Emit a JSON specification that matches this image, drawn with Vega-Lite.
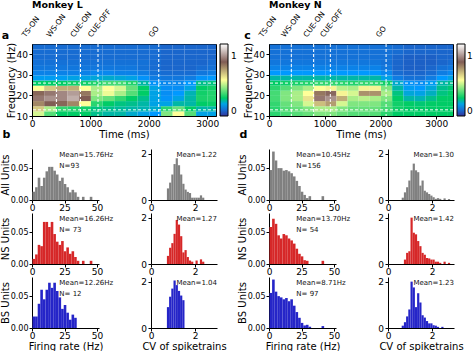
{
"$schema": "https://vega.github.io/schema/vega-lite/v6.json",
"padding": {"left": 0, "top": -1, "right": 0, "bottom": 0},
"config": {
 "font": "DejaVu Sans",
 "view": {"stroke": null},
 "axis": {"grid": false, "labelFont": "DejaVu Sans", "titleFont": "DejaVu Sans", "labelFontSize": 9, "titleFontSize": 10, "titleFontWeight": "normal", "labelColor": "#000", "titleColor": "#000", "domainColor": "#000", "tickColor": "#000", "tickSize": 3, "labelFlush": false, "labelBound": false, "labelOverlap": false, "titlePadding": 2},
 "axisX": {"labelPadding": 0, "titlePadding": 1},
 "axisY": {"labelPadding": 1.5, "titlePadding": 0},
 "title": {"font": "DejaVu Sans", "fontSize": 9.5, "fontWeight": "bold", "anchor": "start", "frame": "group", "offset": -2, "color": "#000"},
 "text": {"font": "DejaVu Sans", "color": "#111"}
},
"datasets": {
 "evL": [{"name": "TS-ON", "t": 0}, {"name": "WS-ON", "t": 420}, {"name": "CUE-ON", "t": 830}, {"name": "CUE-OFF", "t": 1130}, {"name": "GO", "t": 2170}],
 "evN": [{"name": "TS-ON", "t": 0}, {"name": "WS-ON", "t": 400}, {"name": "CUE-ON", "t": 800}, {"name": "CUE-OFF", "t": 1100}, {"name": "GO", "t": 2100}],
 "bands": [{"f": 13}, {"f": 26}],
 "hmL": [
{"t":0,"f":10,"v":0.55},{"t":200,"f":10,"v":0.4},{"t":400,"f":10,"v":0.3},{"t":600,"f":10,"v":0.3},{"t":800,"f":10,"v":0.3},{"t":1000,"f":10,"v":0.27},{"t":1200,"f":10,"v":0.25},{"t":1400,"f":10,"v":0.25},{"t":1600,"f":10,"v":0.22},{"t":1800,"f":10,"v":0.2},{"t":2000,"f":10,"v":0.18},{"t":2200,"f":10,"v":0.45},{"t":2400,"f":10,"v":0.6},{"t":2600,"f":10,"v":0.4},{"t":2800,"f":10,"v":0.2},{"t":3000,"f":10,"v":0.2},
{"t":0,"f":12.5,"v":0.7},{"t":200,"f":12.5,"v":0.5},{"t":400,"f":12.5,"v":0.36},{"t":600,"f":12.5,"v":0.34},{"t":800,"f":12.5,"v":0.32},{"t":1000,"f":12.5,"v":0.28},{"t":1200,"f":12.5,"v":0.27},{"t":1400,"f":12.5,"v":0.26},{"t":1600,"f":12.5,"v":0.25},{"t":1800,"f":12.5,"v":0.24},{"t":2000,"f":12.5,"v":0.22},{"t":2200,"f":12.5,"v":0.35},{"t":2400,"f":12.5,"v":0.42},{"t":2600,"f":12.5,"v":0.3},{"t":2800,"f":12.5,"v":0.25},{"t":3000,"f":12.5,"v":0.25},
{"t":0,"f":15,"v":0.82},{"t":200,"f":15,"v":0.9},{"t":400,"f":15,"v":0.88},{"t":600,"f":15,"v":0.82},{"t":800,"f":15,"v":0.6},{"t":1000,"f":15,"v":0.35},{"t":1200,"f":15,"v":0.3},{"t":1400,"f":15,"v":0.28},{"t":1600,"f":15,"v":0.27},{"t":1800,"f":15,"v":0.25},{"t":2000,"f":15,"v":0.2},{"t":2200,"f":15,"v":0.2},{"t":2400,"f":15,"v":0.25},{"t":2600,"f":15,"v":0.25},{"t":2800,"f":15,"v":0.3},{"t":3000,"f":15,"v":0.31},
{"t":0,"f":17.5,"v":0.95},{"t":200,"f":17.5,"v":1.0},{"t":400,"f":17.5,"v":0.98},{"t":600,"f":17.5,"v":1.05},{"t":800,"f":17.5,"v":0.9},{"t":1000,"f":17.5,"v":0.45},{"t":1200,"f":17.5,"v":0.42},{"t":1400,"f":17.5,"v":0.36},{"t":1600,"f":17.5,"v":0.3},{"t":1800,"f":17.5,"v":0.27},{"t":2000,"f":17.5,"v":0.2},{"t":2200,"f":17.5,"v":0.17},{"t":2400,"f":17.5,"v":0.2},{"t":2600,"f":17.5,"v":0.25},{"t":2800,"f":17.5,"v":0.33},{"t":3000,"f":17.5,"v":0.34},
{"t":0,"f":20,"v":0.88},{"t":200,"f":20,"v":0.95},{"t":400,"f":20,"v":0.98},{"t":600,"f":20,"v":1.02},{"t":800,"f":20,"v":0.85},{"t":1000,"f":20,"v":0.5},{"t":1200,"f":20,"v":0.58},{"t":1400,"f":20,"v":0.5},{"t":1600,"f":20,"v":0.4},{"t":1800,"f":20,"v":0.3},{"t":2000,"f":20,"v":0.2},{"t":2200,"f":20,"v":0.16},{"t":2400,"f":20,"v":0.18},{"t":2600,"f":20,"v":0.24},{"t":2800,"f":20,"v":0.32},{"t":3000,"f":20,"v":0.34},
{"t":0,"f":22.5,"v":0.6},{"t":200,"f":22.5,"v":0.7},{"t":400,"f":22.5,"v":0.75},{"t":600,"f":22.5,"v":0.75},{"t":800,"f":22.5,"v":0.6},{"t":1000,"f":22.5,"v":0.5},{"t":1200,"f":22.5,"v":0.6},{"t":1400,"f":22.5,"v":0.55},{"t":1600,"f":22.5,"v":0.42},{"t":1800,"f":22.5,"v":0.3},{"t":2000,"f":22.5,"v":0.2},{"t":2200,"f":22.5,"v":0.16},{"t":2400,"f":22.5,"v":0.16},{"t":2600,"f":22.5,"v":0.2},{"t":2800,"f":22.5,"v":0.3},{"t":3000,"f":22.5,"v":0.32},
{"t":0,"f":25,"v":0.3},{"t":200,"f":25,"v":0.3},{"t":400,"f":25,"v":0.3},{"t":600,"f":25,"v":0.32},{"t":800,"f":25,"v":0.32},{"t":1000,"f":25,"v":0.34},{"t":1200,"f":25,"v":0.38},{"t":1400,"f":25,"v":0.38},{"t":1600,"f":25,"v":0.34},{"t":1800,"f":25,"v":0.25},{"t":2000,"f":25,"v":0.17},{"t":2200,"f":25,"v":0.15},{"t":2400,"f":25,"v":0.15},{"t":2600,"f":25,"v":0.18},{"t":2800,"f":25,"v":0.27},{"t":3000,"f":25,"v":0.28},
{"t":0,"f":27.5,"v":0.19},{"t":200,"f":27.5,"v":0.19},{"t":400,"f":27.5,"v":0.19},{"t":600,"f":27.5,"v":0.2},{"t":800,"f":27.5,"v":0.2},{"t":1000,"f":27.5,"v":0.21},{"t":1200,"f":27.5,"v":0.22},{"t":1400,"f":27.5,"v":0.21},{"t":1600,"f":27.5,"v":0.2},{"t":1800,"f":27.5,"v":0.17},{"t":2000,"f":27.5,"v":0.13},{"t":2200,"f":27.5,"v":0.12},{"t":2400,"f":27.5,"v":0.12},{"t":2600,"f":27.5,"v":0.13},{"t":2800,"f":27.5,"v":0.17},{"t":3000,"f":27.5,"v":0.18},
{"t":0,"f":30,"v":0.14},{"t":200,"f":30,"v":0.14},{"t":400,"f":30,"v":0.14},{"t":600,"f":30,"v":0.14},{"t":800,"f":30,"v":0.14},{"t":1000,"f":30,"v":0.15},{"t":1200,"f":30,"v":0.15},{"t":1400,"f":30,"v":0.14},{"t":1600,"f":30,"v":0.14},{"t":1800,"f":30,"v":0.13},{"t":2000,"f":30,"v":0.11},{"t":2200,"f":30,"v":0.1},{"t":2400,"f":30,"v":0.1},{"t":2600,"f":30,"v":0.1},{"t":2800,"f":30,"v":0.12},{"t":3000,"f":30,"v":0.13},
{"t":0,"f":32.5,"v":0.12},{"t":200,"f":32.5,"v":0.12},{"t":400,"f":32.5,"v":0.12},{"t":600,"f":32.5,"v":0.12},{"t":800,"f":32.5,"v":0.12},{"t":1000,"f":32.5,"v":0.12},{"t":1200,"f":32.5,"v":0.12},{"t":1400,"f":32.5,"v":0.12},{"t":1600,"f":32.5,"v":0.12},{"t":1800,"f":32.5,"v":0.11},{"t":2000,"f":32.5,"v":0.1},{"t":2200,"f":32.5,"v":0.09},{"t":2400,"f":32.5,"v":0.09},{"t":2600,"f":32.5,"v":0.09},{"t":2800,"f":32.5,"v":0.1},{"t":3000,"f":32.5,"v":0.11},
{"t":0,"f":35,"v":0.11},{"t":200,"f":35,"v":0.11},{"t":400,"f":35,"v":0.11},{"t":600,"f":35,"v":0.11},{"t":800,"f":35,"v":0.11},{"t":1000,"f":35,"v":0.11},{"t":1200,"f":35,"v":0.11},{"t":1400,"f":35,"v":0.11},{"t":1600,"f":35,"v":0.11},{"t":1800,"f":35,"v":0.11},{"t":2000,"f":35,"v":0.1},{"t":2200,"f":35,"v":0.09},{"t":2400,"f":35,"v":0.09},{"t":2600,"f":35,"v":0.09},{"t":2800,"f":35,"v":0.09},{"t":3000,"f":35,"v":0.1},
{"t":0,"f":37.5,"v":0.1},{"t":200,"f":37.5,"v":0.1},{"t":400,"f":37.5,"v":0.1},{"t":600,"f":37.5,"v":0.1},{"t":800,"f":37.5,"v":0.1},{"t":1000,"f":37.5,"v":0.1},{"t":1200,"f":37.5,"v":0.1},{"t":1400,"f":37.5,"v":0.1},{"t":1600,"f":37.5,"v":0.1},{"t":1800,"f":37.5,"v":0.1},{"t":2000,"f":37.5,"v":0.1},{"t":2200,"f":37.5,"v":0.09},{"t":2400,"f":37.5,"v":0.09},{"t":2600,"f":37.5,"v":0.09},{"t":2800,"f":37.5,"v":0.09},{"t":3000,"f":37.5,"v":0.09},
{"t":0,"f":40,"v":0.1},{"t":200,"f":40,"v":0.1},{"t":400,"f":40,"v":0.1},{"t":600,"f":40,"v":0.1},{"t":800,"f":40,"v":0.1},{"t":1000,"f":40,"v":0.1},{"t":1200,"f":40,"v":0.1},{"t":1400,"f":40,"v":0.1},{"t":1600,"f":40,"v":0.1},{"t":1800,"f":40,"v":0.1},{"t":2000,"f":40,"v":0.1},{"t":2200,"f":40,"v":0.09},{"t":2400,"f":40,"v":0.09},{"t":2600,"f":40,"v":0.09},{"t":2800,"f":40,"v":0.09},{"t":3000,"f":40,"v":0.09},
{"t":0,"f":42.5,"v":0.1},{"t":200,"f":42.5,"v":0.1},{"t":400,"f":42.5,"v":0.1},{"t":600,"f":42.5,"v":0.1},{"t":800,"f":42.5,"v":0.1},{"t":1000,"f":42.5,"v":0.1},{"t":1200,"f":42.5,"v":0.1},{"t":1400,"f":42.5,"v":0.1},{"t":1600,"f":42.5,"v":0.1},{"t":1800,"f":42.5,"v":0.1},{"t":2000,"f":42.5,"v":0.1},{"t":2200,"f":42.5,"v":0.09},{"t":2400,"f":42.5,"v":0.09},{"t":2600,"f":42.5,"v":0.09},{"t":2800,"f":42.5,"v":0.09},{"t":3000,"f":42.5,"v":0.09}
 ],
 "hmN": [
{"t":0,"f":10,"v":0.35},{"t":200,"f":10,"v":0.38},{"t":400,"f":10,"v":0.4},{"t":600,"f":10,"v":0.42},{"t":800,"f":10,"v":0.45},{"t":1000,"f":10,"v":0.45},{"t":1200,"f":10,"v":0.42},{"t":1400,"f":10,"v":0.4},{"t":1600,"f":10,"v":0.4},{"t":1800,"f":10,"v":0.4},{"t":2000,"f":10,"v":0.35},{"t":2200,"f":10,"v":0.3},{"t":2400,"f":10,"v":0.3},{"t":2600,"f":10,"v":0.3},{"t":2800,"f":10,"v":0.3},{"t":3000,"f":10,"v":0.3},{"t":3200,"f":10,"v":0.3},
{"t":0,"f":12.5,"v":0.35},{"t":200,"f":12.5,"v":0.4},{"t":400,"f":12.5,"v":0.42},{"t":600,"f":12.5,"v":0.45},{"t":800,"f":12.5,"v":0.5},{"t":1000,"f":12.5,"v":0.5},{"t":1200,"f":12.5,"v":0.45},{"t":1400,"f":12.5,"v":0.42},{"t":1600,"f":12.5,"v":0.42},{"t":1800,"f":12.5,"v":0.42},{"t":2000,"f":12.5,"v":0.38},{"t":2200,"f":12.5,"v":0.32},{"t":2400,"f":12.5,"v":0.3},{"t":2600,"f":12.5,"v":0.3},{"t":2800,"f":12.5,"v":0.3},{"t":3000,"f":12.5,"v":0.3},{"t":3200,"f":12.5,"v":0.3},
{"t":0,"f":15,"v":0.36},{"t":200,"f":15,"v":0.42},{"t":400,"f":15,"v":0.45},{"t":600,"f":15,"v":0.55},{"t":800,"f":15,"v":0.72},{"t":1000,"f":15,"v":0.78},{"t":1200,"f":15,"v":0.55},{"t":1400,"f":15,"v":0.45},{"t":1600,"f":15,"v":0.45},{"t":1800,"f":15,"v":0.45},{"t":2000,"f":15,"v":0.4},{"t":2200,"f":15,"v":0.32},{"t":2400,"f":15,"v":0.3},{"t":2600,"f":15,"v":0.29},{"t":2800,"f":15,"v":0.3},{"t":3000,"f":15,"v":0.3},{"t":3200,"f":15,"v":0.3},
{"t":0,"f":17.5,"v":0.38},{"t":200,"f":17.5,"v":0.45},{"t":400,"f":17.5,"v":0.5},{"t":600,"f":17.5,"v":0.65},{"t":800,"f":17.5,"v":0.95},{"t":1000,"f":17.5,"v":1.0},{"t":1200,"f":17.5,"v":0.75},{"t":1400,"f":17.5,"v":0.5},{"t":1600,"f":17.5,"v":0.52},{"t":1800,"f":17.5,"v":0.5},{"t":2000,"f":17.5,"v":0.45},{"t":2200,"f":17.5,"v":0.3},{"t":2400,"f":17.5,"v":0.25},{"t":2600,"f":17.5,"v":0.24},{"t":2800,"f":17.5,"v":0.27},{"t":3000,"f":17.5,"v":0.3},{"t":3200,"f":17.5,"v":0.3},
{"t":0,"f":20,"v":0.38},{"t":200,"f":20,"v":0.45},{"t":400,"f":20,"v":0.5},{"t":600,"f":20,"v":0.6},{"t":800,"f":20,"v":0.85},{"t":1000,"f":20,"v":0.92},{"t":1200,"f":20,"v":0.62},{"t":1400,"f":20,"v":0.55},{"t":1600,"f":20,"v":0.8},{"t":1800,"f":20,"v":0.8},{"t":2000,"f":20,"v":0.5},{"t":2200,"f":20,"v":0.28},{"t":2400,"f":20,"v":0.21},{"t":2600,"f":20,"v":0.2},{"t":2800,"f":20,"v":0.23},{"t":3000,"f":20,"v":0.28},{"t":3200,"f":20,"v":0.3},
{"t":0,"f":22.5,"v":0.35},{"t":200,"f":22.5,"v":0.4},{"t":400,"f":22.5,"v":0.45},{"t":600,"f":22.5,"v":0.5},{"t":800,"f":22.5,"v":0.6},{"t":1000,"f":22.5,"v":0.62},{"t":1200,"f":22.5,"v":0.52},{"t":1400,"f":22.5,"v":0.5},{"t":1600,"f":22.5,"v":0.62},{"t":1800,"f":22.5,"v":0.62},{"t":2000,"f":22.5,"v":0.45},{"t":2200,"f":22.5,"v":0.25},{"t":2400,"f":22.5,"v":0.19},{"t":2600,"f":22.5,"v":0.18},{"t":2800,"f":22.5,"v":0.21},{"t":3000,"f":22.5,"v":0.27},{"t":3200,"f":22.5,"v":0.29},
{"t":0,"f":25,"v":0.3},{"t":200,"f":25,"v":0.32},{"t":400,"f":25,"v":0.33},{"t":600,"f":25,"v":0.34},{"t":800,"f":25,"v":0.36},{"t":1000,"f":25,"v":0.36},{"t":1200,"f":25,"v":0.35},{"t":1400,"f":25,"v":0.34},{"t":1600,"f":25,"v":0.36},{"t":1800,"f":25,"v":0.36},{"t":2000,"f":25,"v":0.32},{"t":2200,"f":25,"v":0.22},{"t":2400,"f":25,"v":0.17},{"t":2600,"f":25,"v":0.16},{"t":2800,"f":25,"v":0.19},{"t":3000,"f":25,"v":0.25},{"t":3200,"f":25,"v":0.27},
{"t":0,"f":27.5,"v":0.25},{"t":200,"f":27.5,"v":0.25},{"t":400,"f":27.5,"v":0.25},{"t":600,"f":27.5,"v":0.25},{"t":800,"f":27.5,"v":0.25},{"t":1000,"f":27.5,"v":0.25},{"t":1200,"f":27.5,"v":0.25},{"t":1400,"f":27.5,"v":0.25},{"t":1600,"f":27.5,"v":0.25},{"t":1800,"f":27.5,"v":0.25},{"t":2000,"f":27.5,"v":0.2},{"t":2200,"f":27.5,"v":0.13},{"t":2400,"f":27.5,"v":0.11},{"t":2600,"f":27.5,"v":0.11},{"t":2800,"f":27.5,"v":0.13},{"t":3000,"f":27.5,"v":0.18},{"t":3200,"f":27.5,"v":0.2},
{"t":0,"f":30,"v":0.18},{"t":200,"f":30,"v":0.18},{"t":400,"f":30,"v":0.18},{"t":600,"f":30,"v":0.18},{"t":800,"f":30,"v":0.18},{"t":1000,"f":30,"v":0.18},{"t":1200,"f":30,"v":0.18},{"t":1400,"f":30,"v":0.18},{"t":1600,"f":30,"v":0.18},{"t":1800,"f":30,"v":0.18},{"t":2000,"f":30,"v":0.15},{"t":2200,"f":30,"v":0.1},{"t":2400,"f":30,"v":0.09},{"t":2600,"f":30,"v":0.09},{"t":2800,"f":30,"v":0.1},{"t":3000,"f":30,"v":0.13},{"t":3200,"f":30,"v":0.15},
{"t":0,"f":32.5,"v":0.14},{"t":200,"f":32.5,"v":0.14},{"t":400,"f":32.5,"v":0.14},{"t":600,"f":32.5,"v":0.14},{"t":800,"f":32.5,"v":0.14},{"t":1000,"f":32.5,"v":0.14},{"t":1200,"f":32.5,"v":0.14},{"t":1400,"f":32.5,"v":0.14},{"t":1600,"f":32.5,"v":0.14},{"t":1800,"f":32.5,"v":0.14},{"t":2000,"f":32.5,"v":0.12},{"t":2200,"f":32.5,"v":0.09},{"t":2400,"f":32.5,"v":0.08},{"t":2600,"f":32.5,"v":0.08},{"t":2800,"f":32.5,"v":0.09},{"t":3000,"f":32.5,"v":0.11},{"t":3200,"f":32.5,"v":0.12},
{"t":0,"f":35,"v":0.12},{"t":200,"f":35,"v":0.12},{"t":400,"f":35,"v":0.12},{"t":600,"f":35,"v":0.12},{"t":800,"f":35,"v":0.12},{"t":1000,"f":35,"v":0.12},{"t":1200,"f":35,"v":0.12},{"t":1400,"f":35,"v":0.12},{"t":1600,"f":35,"v":0.12},{"t":1800,"f":35,"v":0.12},{"t":2000,"f":35,"v":0.11},{"t":2200,"f":35,"v":0.09},{"t":2400,"f":35,"v":0.08},{"t":2600,"f":35,"v":0.08},{"t":2800,"f":35,"v":0.08},{"t":3000,"f":35,"v":0.09},{"t":3200,"f":35,"v":0.1},
{"t":0,"f":37.5,"v":0.11},{"t":200,"f":37.5,"v":0.11},{"t":400,"f":37.5,"v":0.11},{"t":600,"f":37.5,"v":0.11},{"t":800,"f":37.5,"v":0.11},{"t":1000,"f":37.5,"v":0.11},{"t":1200,"f":37.5,"v":0.11},{"t":1400,"f":37.5,"v":0.11},{"t":1600,"f":37.5,"v":0.11},{"t":1800,"f":37.5,"v":0.11},{"t":2000,"f":37.5,"v":0.11},{"t":2200,"f":37.5,"v":0.09},{"t":2400,"f":37.5,"v":0.08},{"t":2600,"f":37.5,"v":0.08},{"t":2800,"f":37.5,"v":0.08},{"t":3000,"f":37.5,"v":0.09},{"t":3200,"f":37.5,"v":0.09},
{"t":0,"f":40,"v":0.11},{"t":200,"f":40,"v":0.11},{"t":400,"f":40,"v":0.11},{"t":600,"f":40,"v":0.11},{"t":800,"f":40,"v":0.11},{"t":1000,"f":40,"v":0.11},{"t":1200,"f":40,"v":0.11},{"t":1400,"f":40,"v":0.11},{"t":1600,"f":40,"v":0.11},{"t":1800,"f":40,"v":0.11},{"t":2000,"f":40,"v":0.11},{"t":2200,"f":40,"v":0.1},{"t":2400,"f":40,"v":0.09},{"t":2600,"f":40,"v":0.09},{"t":2800,"f":40,"v":0.09},{"t":3000,"f":40,"v":0.09},{"t":3200,"f":40,"v":0.09},
{"t":0,"f":42.5,"v":0.11},{"t":200,"f":42.5,"v":0.11},{"t":400,"f":42.5,"v":0.11},{"t":600,"f":42.5,"v":0.11},{"t":800,"f":42.5,"v":0.11},{"t":1000,"f":42.5,"v":0.11},{"t":1200,"f":42.5,"v":0.11},{"t":1400,"f":42.5,"v":0.11},{"t":1600,"f":42.5,"v":0.11},{"t":1800,"f":42.5,"v":0.11},{"t":2000,"f":42.5,"v":0.11},{"t":2200,"f":42.5,"v":0.1},{"t":2400,"f":42.5,"v":0.09},{"t":2600,"f":42.5,"v":0.09},{"t":2800,"f":42.5,"v":0.09},{"t":3000,"f":42.5,"v":0.09},{"t":3200,"f":42.5,"v":0.09}
 ],
 "frLa": [{"x":0,"y":0.013},{"x":2,"y":0.02},{"x":4,"y":0.035},{"x":6,"y":0.022},{"x":8,"y":0.035},{"x":10,"y":0.045},{"x":12,"y":0.052},{"x":14,"y":0.052},{"x":16,"y":0.046},{"x":18,"y":0.04},{"x":20,"y":0.03},{"x":22,"y":0.035},{"x":24,"y":0.025},{"x":26,"y":0.02},{"x":28,"y":0.012},{"x":30,"y":0.016},{"x":32,"y":0.012},{"x":34,"y":0.005},{"x":38,"y":0.005},{"x":44,"y":0.005}],
 "frLn": [{"x":0,"y":0.008},{"x":2,"y":0.015},{"x":4,"y":0.03},{"x":6,"y":0.028},{"x":8,"y":0.066},{"x":10,"y":0.066},{"x":12,"y":0.058},{"x":14,"y":0.066},{"x":16,"y":0.047},{"x":18,"y":0.035},{"x":20,"y":0.03},{"x":22,"y":0.036},{"x":24,"y":0.02},{"x":26,"y":0.026},{"x":28,"y":0.016},{"x":30,"y":0.02},{"x":32,"y":0.011},{"x":34,"y":0.005},{"x":38,"y":0.005},{"x":44,"y":0.005}],
 "frLb": [{"x":0,"y":0.018},{"x":2,"y":0.018},{"x":4,"y":0.038},{"x":6,"y":0.06},{"x":8,"y":0.045},{"x":10,"y":0.06},{"x":12,"y":0.071},{"x":14,"y":0.063},{"x":16,"y":0.071},{"x":18,"y":0.058},{"x":20,"y":0.048},{"x":22,"y":0.03},{"x":24,"y":0.036},{"x":26,"y":0.024},{"x":28,"y":0.013},{"x":30,"y":0.021},{"x":32,"y":0.016}],
 "frRa": [{"x":0,"y":0.047},{"x":2,"y":0.076},{"x":4,"y":0.062},{"x":6,"y":0.05},{"x":8,"y":0.05},{"x":10,"y":0.046},{"x":12,"y":0.047},{"x":14,"y":0.045},{"x":16,"y":0.042},{"x":18,"y":0.037},{"x":20,"y":0.03},{"x":22,"y":0.022},{"x":24,"y":0.013},{"x":26,"y":0.008},{"x":28,"y":0.003},{"x":30,"y":0.006},{"x":40,"y":0.006}],
 "frRn": [{"x":0,"y":0.058},{"x":2,"y":0.071},{"x":4,"y":0.063},{"x":6,"y":0.045},{"x":8,"y":0.04},{"x":10,"y":0.047},{"x":12,"y":0.045},{"x":14,"y":0.04},{"x":16,"y":0.037},{"x":18,"y":0.032},{"x":20,"y":0.024},{"x":22,"y":0.016},{"x":24,"y":0.012},{"x":26,"y":0.006},{"x":28,"y":0.005},{"x":40,"y":0.005}],
 "frRb": [{"x":0,"y":0.055},{"x":2,"y":0.076},{"x":4,"y":0.057},{"x":6,"y":0.05},{"x":8,"y":0.048},{"x":10,"y":0.045},{"x":12,"y":0.047},{"x":14,"y":0.042},{"x":16,"y":0.045},{"x":18,"y":0.035},{"x":20,"y":0.025},{"x":22,"y":0.016},{"x":24,"y":0.008},{"x":26,"y":0.004},{"x":28,"y":0.005},{"x":30,"y":0.002},{"x":40,"y":0.003}],
 "cvLa": [{"x":0.7,"y":0.5},{"x":0.8,"y":0.75},{"x":0.9,"y":1.1},{"x":1.0,"y":1.55},{"x":1.1,"y":1.8},{"x":1.2,"y":1.5},{"x":1.3,"y":1.1},{"x":1.4,"y":0.7},{"x":1.5,"y":0.45},{"x":1.6,"y":0.35},{"x":1.7,"y":0.3},{"x":1.8,"y":0.1},{"x":1.9,"y":0.1},{"x":2.0,"y":0.1},{"x":2.1,"y":0.1},{"x":2.2,"y":0.2},{"x":2.3,"y":0.1}],
 "cvLn": [{"x":0.7,"y":0.35},{"x":0.8,"y":0.7},{"x":0.9,"y":0.9},{"x":1.0,"y":1.3},{"x":1.1,"y":1.9},{"x":1.2,"y":1.7},{"x":1.3,"y":1.2},{"x":1.4,"y":0.5},{"x":1.5,"y":0.6},{"x":1.6,"y":0.3},{"x":1.7,"y":0.15},{"x":1.8,"y":0.1},{"x":2.0,"y":0.15},{"x":2.2,"y":0.2},{"x":2.3,"y":0.1}],
 "cvLb": [{"x":0.7,"y":0.9},{"x":0.8,"y":1.35},{"x":0.9,"y":1.7},{"x":1.0,"y":2.05},{"x":1.1,"y":1.85},{"x":1.2,"y":1.6},{"x":1.3,"y":1.4},{"x":1.4,"y":1.2}],
 "cvRa": [{"x":0.6,"y":0.1},{"x":0.7,"y":0.33},{"x":0.8,"y":0.55},{"x":0.9,"y":0.84},{"x":1.0,"y":1.28},{"x":1.1,"y":1.57},{"x":1.2,"y":1.28},{"x":1.3,"y":1.2},{"x":1.4,"y":0.62},{"x":1.5,"y":0.84},{"x":1.6,"y":0.4},{"x":1.7,"y":0.33},{"x":1.8,"y":0.26},{"x":1.9,"y":0.19},{"x":2.0,"y":0.12},{"x":2.1,"y":0.05},{"x":2.2,"y":0.08},{"x":2.3,"y":0.05},{"x":2.5,"y":0.07},{"x":2.7,"y":0.04}],
 "cvRn": [{"x":0.7,"y":0.19},{"x":0.8,"y":0.48},{"x":0.9,"y":0.55},{"x":1.0,"y":2.0},{"x":1.1,"y":1.35},{"x":1.2,"y":1.28},{"x":1.3,"y":0.99},{"x":1.4,"y":0.77},{"x":1.5,"y":0.48},{"x":1.6,"y":0.4},{"x":1.7,"y":0.26},{"x":1.8,"y":0.24},{"x":1.9,"y":0.19},{"x":2.0,"y":0.19},{"x":2.1,"y":0.1},{"x":2.2,"y":0.1},{"x":2.3,"y":0.05},{"x":2.5,"y":0.1},{"x":2.7,"y":0.05}],
 "cvRb": [{"x":0.6,"y":0.1},{"x":0.7,"y":0.25},{"x":0.8,"y":0.5},{"x":0.9,"y":0.8},{"x":1.0,"y":2.0},{"x":1.1,"y":1.75},{"x":1.2,"y":0.9},{"x":1.3,"y":1.5},{"x":1.4,"y":1.1},{"x":1.5,"y":0.55},{"x":1.6,"y":0.45},{"x":1.7,"y":0.3},{"x":1.8,"y":0.2},{"x":1.9,"y":0.2},{"x":2.0,"y":0.12},{"x":2.1,"y":0.1},{"x":2.2,"y":0.05},{"x":2.4,"y":0.05}]
},
"spacing": -12,
"vconcat": [
 {
  "hconcat": [
   {
    "title": {"text": "Monkey L"},
    "width": 184, "height": 72,
    "view": {"stroke": "black", "strokeWidth": 1},
    "resolve": {"axis": {"x": "independent"}},
    "layer": [
     {"data": {"name": "hmL"}, "mark": {"type": "rect", "clip": true},
      "encoding": {
       "x": {"field": "t", "type": "quantitative", "bin": {"binned": true, "step": 200}, "scale": {"domain": [0, 3150], "nice": false, "zero": false}, "axis": {"values": [0, 1000, 2000, 3000], "format": "d", "title": "Time (ms)"}},
       "y": {"field": "f", "type": "quantitative", "bin": {"binned": true, "step": 2.5}, "scale": {"domain": [10, 45], "nice": false, "zero": false}, "axis": {"values": [10, 20, 30, 40], "title": "Frequency (Hz)"}},
       "color": {"field": "v", "type": "quantitative", "scale": {"domain": [0, 0.18, 0.3, 0.6, 0.9, 1.2], "range": ["#333399", "#0099ff", "#00cc66", "#ffff99", "#805c54", "#ffffff"], "interpolate": "rgb"},
        "legend": {"title": null, "values": [0, 1], "format": "d", "gradientLength": 72, "gradientThickness": 8, "gradientStrokeColor": "black", "gradientStrokeWidth": 1, "labelFontSize": 9, "labelColor": "#000", "offset": 4, "labelOffset": 3}}
      }},
     {"data": {"name": "evL"}, "transform": [{"filter": "datum.t > 0"}], "mark": {"type": "rule", "color": "white", "strokeDash": [3, 2], "strokeWidth": 1},
      "encoding": {"x": {"field": "t", "type": "quantitative", "axis": {"orient": "top", "labels": false, "ticks": false, "domain": false, "title": "a", "titleX": -27, "titleY": -6, "titleAngle": 0, "titleFontWeight": "bold", "titleFontSize": 11, "titleAlign": "center", "titleBaseline": "alphabetic"}}}},
     {"data": {"name": "bands"}, "mark": {"type": "rule", "color": "white", "strokeDash": [3, 2], "strokeWidth": 1},
      "encoding": {"y": {"field": "f", "type": "quantitative", "title": "Frequency (Hz)"}}},
     {"data": {"name": "evL"}, "mark": {"type": "text", "angle": -53, "align": "left", "baseline": "alphabetic", "fontSize": 7.5, "dx": 1, "dy": -9, "color": "#000"},
      "encoding": {"x": {"field": "t", "type": "quantitative", "axis": null}, "y": {"datum": 45}, "text": {"field": "name"}}}
    ]
   },
   {
    "title": {"text": "Monkey N"},
    "width": 184, "height": 72,
    "view": {"stroke": "black", "strokeWidth": 1},
    "resolve": {"axis": {"x": "independent"}},
    "layer": [
     {"data": {"name": "hmN"}, "mark": {"type": "rect", "clip": true},
      "encoding": {
       "x": {"field": "t", "type": "quantitative", "bin": {"binned": true, "step": 200}, "scale": {"domain": [0, 3300], "nice": false, "zero": false}, "axis": {"values": [0, 1000, 2000, 3000], "format": "d", "title": "Time (ms)"}},
       "y": {"field": "f", "type": "quantitative", "bin": {"binned": true, "step": 2.5}, "scale": {"domain": [10, 45], "nice": false, "zero": false}, "axis": {"values": [10, 20, 30, 40], "title": "Frequency (Hz)"}},
       "color": {"field": "v", "type": "quantitative", "scale": {"domain": [0, 0.18, 0.3, 0.6, 0.9, 1.2], "range": ["#333399", "#0099ff", "#00cc66", "#ffff99", "#805c54", "#ffffff"], "interpolate": "rgb"},
        "legend": {"title": null, "values": [0, 1], "format": "d", "gradientLength": 72, "gradientThickness": 8, "gradientStrokeColor": "black", "gradientStrokeWidth": 1, "labelFontSize": 9, "labelColor": "#000", "offset": 4, "labelOffset": 2}}
      }},
     {"data": {"name": "evN"}, "transform": [{"filter": "datum.t > 0"}], "mark": {"type": "rule", "color": "white", "strokeDash": [3, 2], "strokeWidth": 1},
      "encoding": {"x": {"field": "t", "type": "quantitative", "axis": {"orient": "top", "labels": false, "ticks": false, "domain": false, "title": "c", "titleX": -22, "titleY": -6, "titleAngle": 0, "titleFontWeight": "bold", "titleFontSize": 11, "titleAlign": "center", "titleBaseline": "alphabetic"}}}},
     {"data": {"name": "bands"}, "mark": {"type": "rule", "color": "white", "strokeDash": [3, 2], "strokeWidth": 1},
      "encoding": {"y": {"field": "f", "type": "quantitative", "title": "Frequency (Hz)"}}},
     {"data": {"name": "evN"}, "mark": {"type": "text", "angle": -53, "align": "left", "baseline": "alphabetic", "fontSize": 7.5, "dx": 1, "dy": -9, "color": "#000"},
      "encoding": {"x": {"field": "t", "type": "quantitative", "axis": null}, "y": {"datum": 45}, "text": {"field": "name"}}}
    ]
   }
  ],
  "bounds": "flush",
  "spacing": 53,
  "resolve": {"scale": {"color": "independent"}, "legend": {"color": "independent"}}
 },
 {
  "columns": 4,
  "bounds": "flush",
  "spacing": {"row": 13, "column": 52},
  "concat": [
   {"width": 67, "height": 51, "layer": [
     {"data": {"name": "frLa"}, "mark": {"type": "bar", "color": "#808080", "binSpacing": 0},
      "encoding": {"x": {"field": "x", "type": "quantitative", "bin": {"binned": true, "step": 2}, "scale": {"domain": [0, 51.5], "nice": false, "zero": false}, "axis": {"values": [0, 25, 50], "title": "b", "titleX": -26, "titleY": -63, "titleAngle": 0, "titleFontWeight": "bold", "titleFontSize": 11, "titleAlign": "center", "titleBaseline": "alphabetic"}},
       "y": {"field": "y", "type": "quantitative", "scale": {"domain": [0, 0.08], "nice": false}, "axis": {"values": [0, 0.05], "format": ".2f", "title": "All Units", "labelFontSize": 8, "labelPadding": 1}}}},
     {"data": {"values": [{}]}, "mark": {"type": "text", "align": "left", "baseline": "middle", "fontSize": 7}, "encoding": {"x": {"datum": 21, "type": "quantitative"}, "y": {"datum": 0.071, "type": "quantitative"}, "text": {"value": "Mean=15.76Hz"}}},
     {"data": {"values": [{}]}, "mark": {"type": "text", "align": "left", "baseline": "middle", "fontSize": 7}, "encoding": {"x": {"datum": 21, "type": "quantitative"}, "y": {"datum": 0.054, "type": "quantitative"}, "text": {"value": "N=93"}}}
   ]},
   {"width": 66, "height": 51, "layer": [
     {"data": {"name": "cvLa"}, "mark": {"type": "bar", "color": "#808080", "binSpacing": 0},
      "encoding": {"x": {"field": "x", "type": "quantitative", "bin": {"binned": true, "step": 0.1}, "scale": {"domain": [0, 3], "nice": false, "zero": false}, "axis": {"values": [0, 2], "format": "d", "title": null}},
       "y": {"field": "y", "type": "quantitative", "scale": {"domain": [0, 2.2], "nice": false}, "axis": {"values": [0, 1, 2], "title": null}}}},
     {"data": {"values": [{}]}, "mark": {"type": "text", "align": "right", "baseline": "middle", "fontSize": 7}, "encoding": {"x": {"datum": 3, "type": "quantitative"}, "y": {"datum": 1.94, "type": "quantitative"}, "text": {"value": "Mean=1.22"}}}
   ]},
   {"width": 67, "height": 51, "layer": [
     {"data": {"name": "frRa"}, "mark": {"type": "bar", "color": "#808080", "binSpacing": 0},
      "encoding": {"x": {"field": "x", "type": "quantitative", "bin": {"binned": true, "step": 2}, "scale": {"domain": [0, 51.5], "nice": false, "zero": false}, "axis": {"values": [0, 25, 50], "title": "d", "titleX": -26, "titleY": -63, "titleAngle": 0, "titleFontWeight": "bold", "titleFontSize": 11, "titleAlign": "center", "titleBaseline": "alphabetic"}},
       "y": {"field": "y", "type": "quantitative", "scale": {"domain": [0, 0.08], "nice": false}, "axis": {"values": [0, 0.05], "format": ".2f", "title": "All Units", "labelFontSize": 8, "labelPadding": 1}}}},
     {"data": {"values": [{}]}, "mark": {"type": "text", "align": "left", "baseline": "middle", "fontSize": 7}, "encoding": {"x": {"datum": 21, "type": "quantitative"}, "y": {"datum": 0.071, "type": "quantitative"}, "text": {"value": "Mean=10.45Hz"}}},
     {"data": {"values": [{}]}, "mark": {"type": "text", "align": "left", "baseline": "middle", "fontSize": 7}, "encoding": {"x": {"datum": 21, "type": "quantitative"}, "y": {"datum": 0.054, "type": "quantitative"}, "text": {"value": "N=156"}}}
   ]},
   {"width": 66, "height": 51, "layer": [
     {"data": {"name": "cvRa"}, "mark": {"type": "bar", "color": "#808080", "binSpacing": 0},
      "encoding": {"x": {"field": "x", "type": "quantitative", "bin": {"binned": true, "step": 0.1}, "scale": {"domain": [0, 3], "nice": false, "zero": false}, "axis": {"values": [0, 2], "format": "d", "title": null}},
       "y": {"field": "y", "type": "quantitative", "scale": {"domain": [0, 2.2], "nice": false}, "axis": {"values": [0, 1, 2], "title": null}}}},
     {"data": {"values": [{}]}, "mark": {"type": "text", "align": "right", "baseline": "middle", "fontSize": 7}, "encoding": {"x": {"datum": 3, "type": "quantitative"}, "y": {"datum": 1.94, "type": "quantitative"}, "text": {"value": "Mean=1.30"}}}
   ]},
   {"width": 67, "height": 51, "layer": [
     {"data": {"name": "frLn"}, "mark": {"type": "bar", "color": "#d62728", "binSpacing": 0},
      "encoding": {"x": {"field": "x", "type": "quantitative", "bin": {"binned": true, "step": 2}, "scale": {"domain": [0, 51.5], "nice": false, "zero": false}, "axis": {"values": [0, 25, 50], "title": null}},
       "y": {"field": "y", "type": "quantitative", "scale": {"domain": [0, 0.08], "nice": false}, "axis": {"values": [0, 0.05], "format": ".2f", "title": "NS Units", "labelFontSize": 8, "labelPadding": 1}}}},
     {"data": {"values": [{}]}, "mark": {"type": "text", "align": "left", "baseline": "middle", "fontSize": 7}, "encoding": {"x": {"datum": 21, "type": "quantitative"}, "y": {"datum": 0.071, "type": "quantitative"}, "text": {"value": "Mean=16.26Hz"}}},
     {"data": {"values": [{}]}, "mark": {"type": "text", "align": "left", "baseline": "middle", "fontSize": 7}, "encoding": {"x": {"datum": 21, "type": "quantitative"}, "y": {"datum": 0.054, "type": "quantitative"}, "text": {"value": "N= 73"}}}
   ]},
   {"width": 66, "height": 51, "layer": [
     {"data": {"name": "cvLn"}, "mark": {"type": "bar", "color": "#d62728", "binSpacing": 0},
      "encoding": {"x": {"field": "x", "type": "quantitative", "bin": {"binned": true, "step": 0.1}, "scale": {"domain": [0, 3], "nice": false, "zero": false}, "axis": {"values": [0, 2], "format": "d", "title": null}},
       "y": {"field": "y", "type": "quantitative", "scale": {"domain": [0, 2.2], "nice": false}, "axis": {"values": [0, 1, 2], "title": null}}}},
     {"data": {"values": [{}]}, "mark": {"type": "text", "align": "right", "baseline": "middle", "fontSize": 7}, "encoding": {"x": {"datum": 3, "type": "quantitative"}, "y": {"datum": 1.94, "type": "quantitative"}, "text": {"value": "Mean=1.27"}}}
   ]},
   {"width": 67, "height": 51, "layer": [
     {"data": {"name": "frRn"}, "mark": {"type": "bar", "color": "#d62728", "binSpacing": 0},
      "encoding": {"x": {"field": "x", "type": "quantitative", "bin": {"binned": true, "step": 2}, "scale": {"domain": [0, 51.5], "nice": false, "zero": false}, "axis": {"values": [0, 25, 50], "title": null}},
       "y": {"field": "y", "type": "quantitative", "scale": {"domain": [0, 0.08], "nice": false}, "axis": {"values": [0, 0.05], "format": ".2f", "title": "NS Units", "labelFontSize": 8, "labelPadding": 1}}}},
     {"data": {"values": [{}]}, "mark": {"type": "text", "align": "left", "baseline": "middle", "fontSize": 7}, "encoding": {"x": {"datum": 21, "type": "quantitative"}, "y": {"datum": 0.071, "type": "quantitative"}, "text": {"value": "Mean=13.70Hz"}}},
     {"data": {"values": [{}]}, "mark": {"type": "text", "align": "left", "baseline": "middle", "fontSize": 7}, "encoding": {"x": {"datum": 21, "type": "quantitative"}, "y": {"datum": 0.054, "type": "quantitative"}, "text": {"value": "N= 54"}}}
   ]},
   {"width": 66, "height": 51, "layer": [
     {"data": {"name": "cvRn"}, "mark": {"type": "bar", "color": "#d62728", "binSpacing": 0},
      "encoding": {"x": {"field": "x", "type": "quantitative", "bin": {"binned": true, "step": 0.1}, "scale": {"domain": [0, 3], "nice": false, "zero": false}, "axis": {"values": [0, 2], "format": "d", "title": null}},
       "y": {"field": "y", "type": "quantitative", "scale": {"domain": [0, 2.2], "nice": false}, "axis": {"values": [0, 1, 2], "title": null}}}},
     {"data": {"values": [{}]}, "mark": {"type": "text", "align": "right", "baseline": "middle", "fontSize": 7}, "encoding": {"x": {"datum": 3, "type": "quantitative"}, "y": {"datum": 1.94, "type": "quantitative"}, "text": {"value": "Mean=1.42"}}}
   ]},
   {"width": 67, "height": 51, "layer": [
     {"data": {"name": "frLb"}, "mark": {"type": "bar", "color": "#2525c8", "binSpacing": 0},
      "encoding": {"x": {"field": "x", "type": "quantitative", "bin": {"binned": true, "step": 2}, "scale": {"domain": [0, 51.5], "nice": false, "zero": false}, "axis": {"values": [0, 25, 50], "title": "Firing rate (Hz)"}},
       "y": {"field": "y", "type": "quantitative", "scale": {"domain": [0, 0.08], "nice": false}, "axis": {"values": [0, 0.05], "format": ".2f", "title": "BS Units", "labelFontSize": 8, "labelPadding": 1}}}},
     {"data": {"values": [{}]}, "mark": {"type": "text", "align": "left", "baseline": "middle", "fontSize": 7}, "encoding": {"x": {"datum": 21, "type": "quantitative"}, "y": {"datum": 0.071, "type": "quantitative"}, "text": {"value": "Mean=12.26Hz"}}},
     {"data": {"values": [{}]}, "mark": {"type": "text", "align": "left", "baseline": "middle", "fontSize": 7}, "encoding": {"x": {"datum": 21, "type": "quantitative"}, "y": {"datum": 0.054, "type": "quantitative"}, "text": {"value": "N= 12"}}}
   ]},
   {"width": 66, "height": 51, "layer": [
     {"data": {"name": "cvLb"}, "mark": {"type": "bar", "color": "#2525c8", "binSpacing": 0},
      "encoding": {"x": {"field": "x", "type": "quantitative", "bin": {"binned": true, "step": 0.1}, "scale": {"domain": [0, 3], "nice": false, "zero": false}, "axis": {"values": [0, 2], "format": "d", "title": "CV of spiketrains"}},
       "y": {"field": "y", "type": "quantitative", "scale": {"domain": [0, 2.2], "nice": false}, "axis": {"values": [0, 1, 2], "title": null}}}},
     {"data": {"values": [{}]}, "mark": {"type": "text", "align": "right", "baseline": "middle", "fontSize": 7}, "encoding": {"x": {"datum": 3, "type": "quantitative"}, "y": {"datum": 1.94, "type": "quantitative"}, "text": {"value": "Mean=1.04"}}}
   ]},
   {"width": 67, "height": 51, "layer": [
     {"data": {"name": "frRb"}, "mark": {"type": "bar", "color": "#2525c8", "binSpacing": 0},
      "encoding": {"x": {"field": "x", "type": "quantitative", "bin": {"binned": true, "step": 2}, "scale": {"domain": [0, 51.5], "nice": false, "zero": false}, "axis": {"values": [0, 25, 50], "title": "Firing rate (Hz)"}},
       "y": {"field": "y", "type": "quantitative", "scale": {"domain": [0, 0.08], "nice": false}, "axis": {"values": [0, 0.05], "format": ".2f", "title": "BS Units", "labelFontSize": 8, "labelPadding": 1}}}},
     {"data": {"values": [{}]}, "mark": {"type": "text", "align": "left", "baseline": "middle", "fontSize": 7}, "encoding": {"x": {"datum": 21, "type": "quantitative"}, "y": {"datum": 0.071, "type": "quantitative"}, "text": {"value": "Mean=8.71Hz"}}},
     {"data": {"values": [{}]}, "mark": {"type": "text", "align": "left", "baseline": "middle", "fontSize": 7}, "encoding": {"x": {"datum": 21, "type": "quantitative"}, "y": {"datum": 0.054, "type": "quantitative"}, "text": {"value": "N= 97"}}}
   ]},
   {"width": 66, "height": 51, "layer": [
     {"data": {"name": "cvRb"}, "mark": {"type": "bar", "color": "#2525c8", "binSpacing": 0},
      "encoding": {"x": {"field": "x", "type": "quantitative", "bin": {"binned": true, "step": 0.1}, "scale": {"domain": [0, 3], "nice": false, "zero": false}, "axis": {"values": [0, 2], "format": "d", "title": "CV of spiketrains"}},
       "y": {"field": "y", "type": "quantitative", "scale": {"domain": [0, 2.2], "nice": false}, "axis": {"values": [0, 1, 2], "title": null}}}},
     {"data": {"values": [{}]}, "mark": {"type": "text", "align": "right", "baseline": "middle", "fontSize": 7}, "encoding": {"x": {"datum": 3, "type": "quantitative"}, "y": {"datum": 1.94, "type": "quantitative"}, "text": {"value": "Mean=1.23"}}}
   ]}
  ]
 }
]
}
